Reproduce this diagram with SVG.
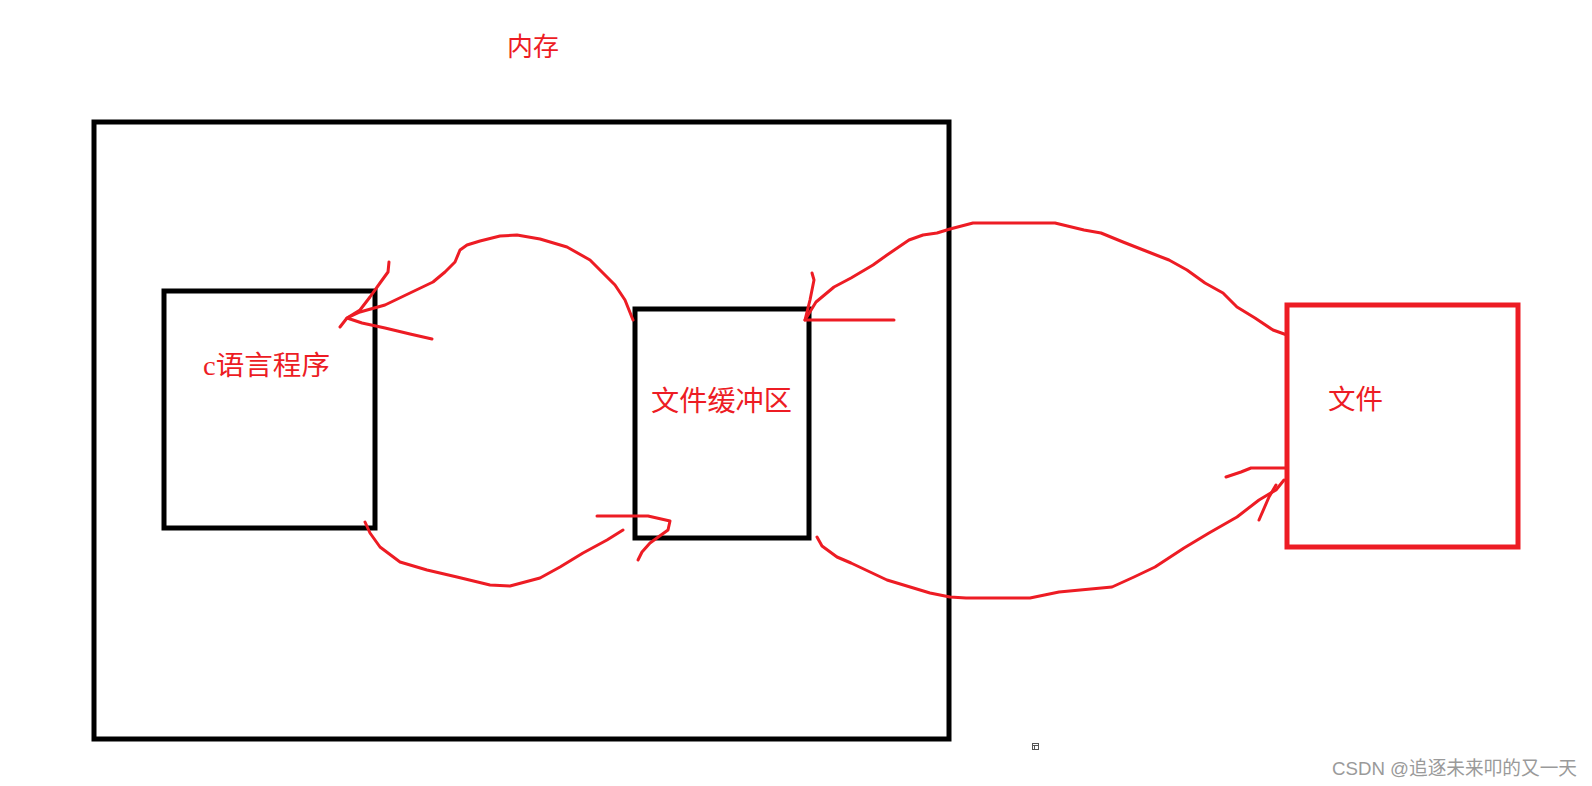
<svg xmlns="http://www.w3.org/2000/svg" width="1592" height="786" viewBox="0 0 1592 786">
<style>
.box{fill:none;stroke:#000;stroke-width:5}
.rbox{fill:none;stroke:#ED1C24;stroke-width:5}
.lbl{fill:#ED1C24;font-family:"Liberation Serif","Noto Sans CJK SC",serif}
.ink{fill:none;stroke:#ED1C24;stroke-width:3;stroke-linecap:round;stroke-linejoin:round}
.wm{fill:#9a9a9a;font-family:"Liberation Sans","Noto Sans CJK SC",sans-serif;font-size:19px}
</style>
<rect width="1592" height="786" fill="#fff"/>
<g id="memory">
<rect class="box" x="94" y="122" width="855" height="617"/>
<text class="lbl" x="507" y="56" font-size="26">内存</text>
</g>
<g id="cprogram">
<rect class="box" x="164" y="291" width="211" height="237"/>
<text class="lbl" x="203" y="375" font-size="27" textLength="127" lengthAdjust="spacingAndGlyphs">c语言程序</text>
</g>
<g id="buffer">
<rect class="box" x="635" y="309" width="174" height="229"/>
<text class="lbl" x="651" y="411" font-size="28" textLength="141" lengthAdjust="spacingAndGlyphs">文件缓冲区</text>
</g>
<g id="file">
<rect class="rbox" x="1287" y="305" width="231" height="242"/>
<text class="lbl" x="1328" y="409" font-size="27" textLength="55" lengthAdjust="spacingAndGlyphs">文件</text>
</g>
<g id="connectors">
<!-- buffer -> c program (top) -->
<polyline class="ink" points="633,320 625,300 615,285 603,273 590,260 567,247 540,239 517,235 500,236 480,241 467,245 460,250 455,262 445,272 433,282 410,293 385,305 360,312 347,318 340,327"/>
<polyline class="ink" points="389,262 388,272 380,283 370,297 360,310 347,318 362,323 385,328 410,334 432,339"/>
<!-- c program -> buffer (bottom) -->
<polyline class="ink" points="365,522 370,533 380,547 400,562 427,570 457,577 490,585 510,586 540,578 560,567 583,553 607,540 623,530"/>
<polyline class="ink" points="597,516 648,516 670,521 668,530 650,543 642,552 638,560"/>
<!-- file -> buffer (top) -->
<polyline class="ink" points="1287,335 1273,330 1255,318 1237,307 1223,293 1205,283 1187,270 1169,260 1151,253 1123,242 1101,233 1084,230 1055,223 973,223 950,229 937,233 923,235 909,240 887,255 873,265 851,278 834,287 816,302 805,320"/>
<polyline class="ink" points="812,273 814,280 810,300 805,320 894,320"/>
<!-- buffer -> file (bottom) -->
<polyline class="ink" points="817,537 822,546 837,557 851,563 887,580 930,593 950,597 966,598 1030,598 1059,592 1112,587 1134,577 1155,567 1184,548 1209,533 1237,517 1259,500 1276,490 1284,480"/>
<polyline class="ink" points="1285,468 1251,468 1241,472 1226,477"/>
<polyline class="ink" points="1276,485 1269,497 1259,520"/>
</g>
<g id="icon">
<rect x="1032.5" y="743.5" width="6" height="6" fill="none" stroke="#555" stroke-width="1"/>
<line x1="1033" y1="745.5" x2="1038" y2="745.5" stroke="#555" stroke-width="1"/>
<line x1="1034.5" y1="746" x2="1034.5" y2="749" stroke="#555" stroke-width="1"/>
</g>
<text class="wm" x="1332" y="775" textLength="245" lengthAdjust="spacingAndGlyphs">CSDN @追逐未来叩的又一天</text>
</svg>
